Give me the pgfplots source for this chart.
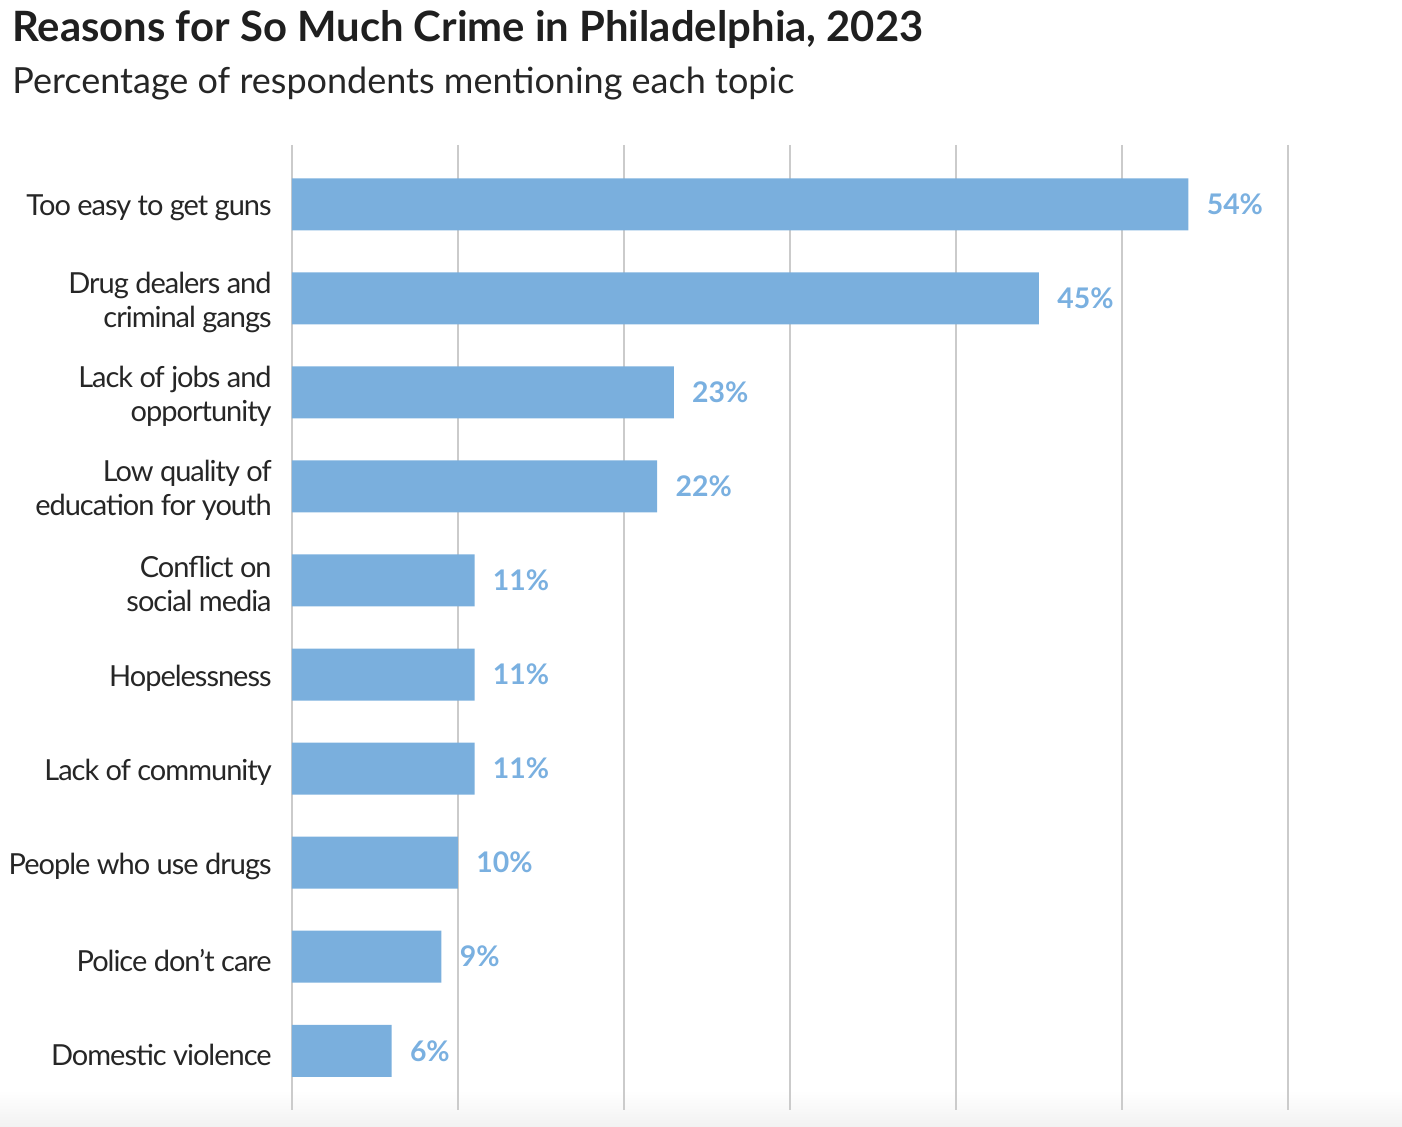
\documentclass[border=0pt]{standalone}
\usepackage{pgfplots}
\pgfplotsset{compat=1.18}
\usepackage{fontspec}
\setmainfont{Lato}
\newfontfamily\lblfont[LetterSpace=-3.5]{Lato}
\definecolor{barblue}{HTML}{7AAFDD}
\definecolor{lblblue}{HTML}{7AB0E0}
\definecolor{txt}{HTML}{262626}
\definecolor{gridg}{HTML}{CBCBCB}
\begin{document}
\begin{tikzpicture}[x=1pt,y=1pt]
\path[use as bounding box] (0,0) rectangle (701,563);
\shade[top color=white, bottom color=black!5] (0,0) rectangle (701,18);
\node[anchor=base west, inner sep=0, text=black!88, font=\fontsize{20.9}{24}\selectfont\bfseries] at (6,542) {Reasons for So Much Crime in Philadelphia, 2023};
\node[anchor=base west, inner sep=0, text=txt, font=\fontsize{18}{21}\selectfont] at (6,516) {Percentage of respondents mentioning each topic};
\begin{axis}[
  at={(146pt,8pt)}, anchor=south west,
  scale only axis, width=498pt, height=482.5pt,
  xbar, bar width=26pt,
  xmin=0, xmax=60, ymin=-0.63, ymax=9.63,
  y dir=reverse,
  axis line style={draw=none},
  xtick={0,10,20,30,40,50,60}, xticklabels={},
  xmajorgrids, grid style={gridg, line width=1pt},
  major tick length=0pt,
  ytick={0,...,9},
  yticklabels={{Too easy to get guns},{Drug dealers and\\criminal gangs},{Lack of jobs and\\opportunity},{Low quality of\\education for youth},{Conflict on\\social media},{Hopelessness},{Lack of community},{People who use drugs},{Police don’t care},{Domestic violence}},
  yticklabel style={align=right, text=txt, font=\lblfont\fontsize{14.5}{17}\selectfont, inner sep=0pt, xshift=-10pt, yshift=-2pt},
  /pgf/number format/assume math mode=true,
  nodes near coords={\pgfmathprintnumber[fixed,precision=0]{\pgfplotspointmeta}\%},
  nodes near coords style={text=lblblue, font=\fontsize{14.2}{17}\selectfont\bfseries, anchor=west, inner sep=0pt, xshift=9pt},
  clip=false,
]
\addplot[draw=none, fill=barblue] coordinates {
(54,0) (45,1) (23,2) (22,3) (11,4) (11,5) (11,6) (10,7) (9,8) (6,9)
};
\end{axis}
\end{tikzpicture}
\end{document}
